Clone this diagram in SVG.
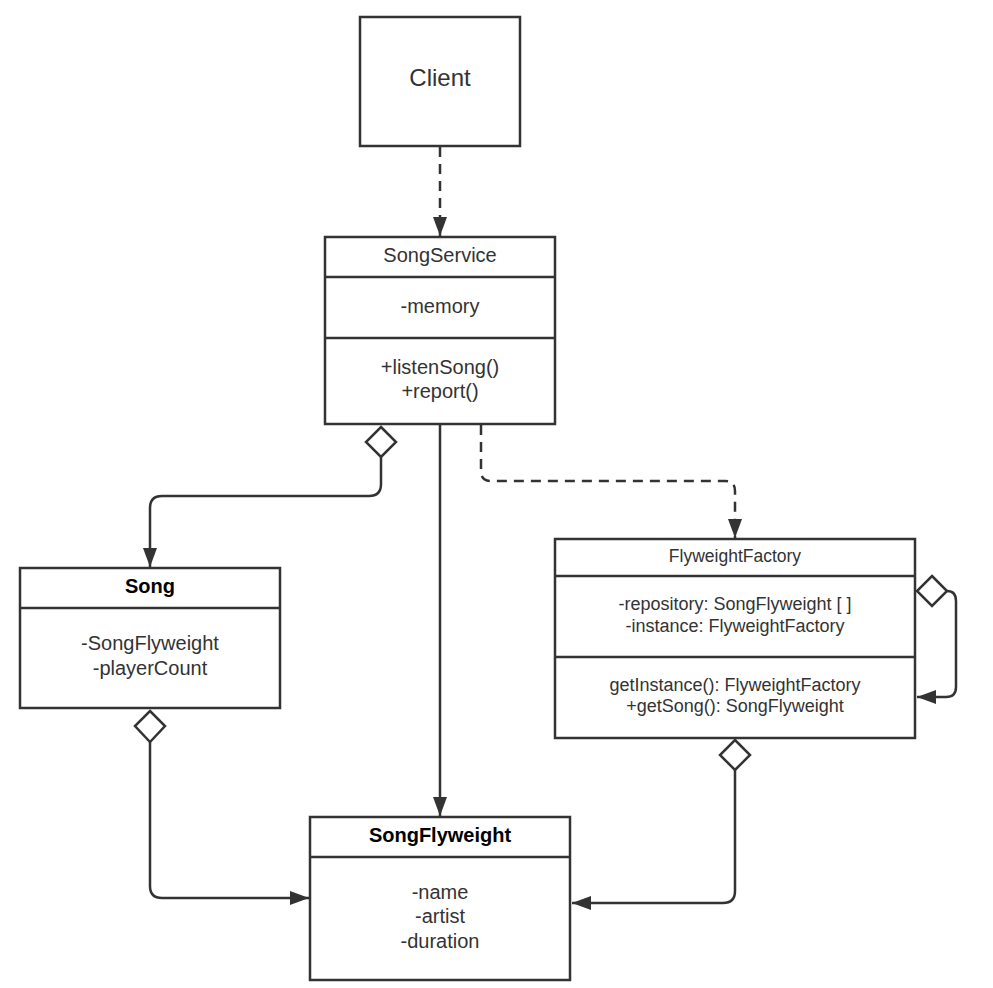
<svg xmlns="http://www.w3.org/2000/svg" width="993" height="988" viewBox="0 0 993 988">
<style>
.box{fill:#fff;stroke:#333;stroke-width:2.5}
.sep{stroke:#333;stroke-width:2.5}
.t{font-family:"Liberation Sans",Arial,sans-serif;fill:#333;text-anchor:middle}
.b{font-weight:bold;fill:#000}
.c{fill:none;stroke:#333;stroke-width:2.5}
.d{stroke-dasharray:10 7}
.dia{fill:#fff;stroke:#333;stroke-width:2.5}
</style>
<defs>
<marker id="arr" markerWidth="20" markerHeight="14" refX="19" refY="7" orient="auto" markerUnits="userSpaceOnUse">
<path d="M0,0 L19,7 L0,14 Z" fill="#333"/>
</marker>
</defs>
<rect width="993" height="988" fill="#fff"/>
<g id="connectors">
<path class="c d" d="M440,147 V236" marker-end="url(#arr)"/>
<path class="c" d="M381,457 V484 Q381,496 369,496 H162 Q150,496 150,508 V567" marker-end="url(#arr)"/>
<path class="c" d="M440,425 V816" marker-end="url(#arr)"/>
<path class="c d" d="M481,425 V471 Q481,481 491,481 H725 Q735,481 735,491 V538" marker-end="url(#arr)"/>
<path class="c" d="M947,591 Q956,591 956,601 V687 Q956,697 946,697 H917" marker-end="url(#arr)"/>
<path class="c" d="M735,770 V891 Q735,903 723,903 H572" marker-end="url(#arr)"/>
<path class="c" d="M150,742 V886 Q150,898 162,898 H309" marker-end="url(#arr)"/>
<path class="dia" d="M381,427 L396,442 L381,457 L366,442 Z"/>
<path class="dia" d="M932,576 L947,591 L932,606 L917,591 Z"/>
<path class="dia" d="M735,740 L750,755 L735,770 L720,755 Z"/>
<path class="dia" d="M150,711 L165,726 L150,742 L135,726 Z"/>
</g>
<g id="client">
<rect class="box" x="360" y="17" width="160" height="129"/>
<text class="t" x="440" y="86" font-size="24">Client</text>
</g>
<g id="songservice">
<rect class="box" x="325" y="237" width="230" height="187"/>
<line class="sep" x1="325" y1="277" x2="555" y2="277"/>
<line class="sep" x1="325" y1="338" x2="555" y2="338"/>
<text class="t" x="440" y="262" font-size="20">SongService</text>
<text class="t" x="440" y="313" font-size="20">-memory</text>
<text class="t" x="440" y="374" font-size="20">+listenSong()</text>
<text class="t" x="440" y="398" font-size="20">+report()</text>
</g>
<g id="song">
<rect class="box" x="20" y="568" width="260" height="140"/>
<line class="sep" x1="20" y1="608" x2="280" y2="608"/>
<text class="t b" x="150" y="593" font-size="20">Song</text>
<text class="t" x="150" y="650" font-size="20">-SongFlyweight</text>
<text class="t" x="150" y="675" font-size="20">-playerCount</text>
</g>
<g id="flyweightfactory">
<rect class="box" x="555" y="539" width="360" height="199"/>
<line class="sep" x1="555" y1="576" x2="915" y2="576"/>
<line class="sep" x1="555" y1="657" x2="915" y2="657"/>
<text class="t" x="735" y="562" font-size="17.5">FlyweightFactory</text>
<text class="t" x="735" y="610" font-size="18">-repository: SongFlyweight [ ]</text>
<text class="t" x="735" y="632" font-size="18">-instance: FlyweightFactory</text>
<text class="t" x="735" y="691" font-size="18">getInstance(): FlyweightFactory</text>
<text class="t" x="735" y="712" font-size="18">+getSong(): SongFlyweight</text>
</g>
<g id="songflyweight">
<rect class="box" x="310" y="817" width="260" height="163"/>
<line class="sep" x1="310" y1="857" x2="570" y2="857"/>
<text class="t b" x="440" y="842" font-size="20">SongFlyweight</text>
<text class="t" x="440" y="899" font-size="20">-name</text>
<text class="t" x="440" y="923" font-size="20">-artist</text>
<text class="t" x="440" y="948" font-size="20">-duration</text>
</g>
</svg>
